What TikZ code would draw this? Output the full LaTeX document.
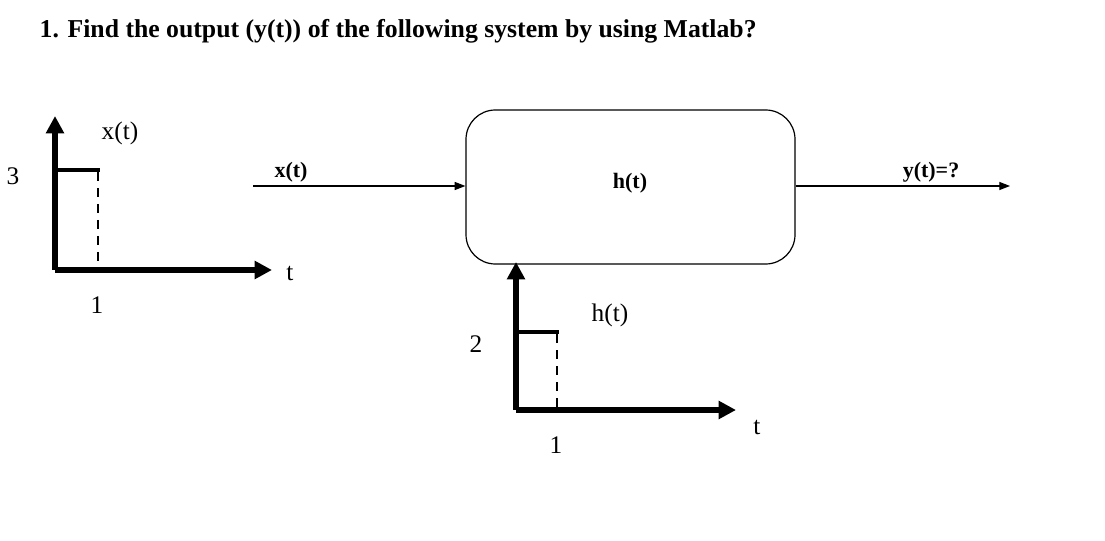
\documentclass[tikz,border=0pt]{standalone}
\usepackage{fontspec}
\setmainfont{Liberation Serif}
\usetikzlibrary{arrows.meta}
\begin{document}
\begin{tikzpicture}[x=0.75pt,y=-0.75pt,
  thickax/.style={line width=4pt,-{Triangle[length=13pt,width=13pt]}},
  pulse/.style={line width=3.5pt},
  dsh/.style={line width=1.8pt,dash pattern=on 7pt off 5pt},
  thin/.style={line width=0.9pt,-{Triangle[length=8pt,width=6pt]}},
  lbl/.style={font=\fontsize{19}{22}\selectfont},
  blbl/.style={font=\bfseries\fontsize{16.5}{19}\selectfont}]
\useasboundingbox (0,0) rectangle (1105,541);
\node[anchor=west,font=\bfseries\fontsize{19.3}{22}\selectfont] (title) at (35,31) {1. Find the output (y(t)) of the following system by using Matlab?};
% left plot
\coordinate (o1) at (55,270);
\coordinate (y1) at (55,116);
\coordinate (x1) at (272,270);
\draw[thickax] (o1) -- (y1);
\draw[thickax] (o1) -- (x1);
\draw[pulse] (55,170) -- (100,170);
\draw[dsh] (98,172) -- (98,268);
\node[lbl] (lx) at (120,133) {x(t)};
\node[lbl] (l3) at (13,176) {3};
\node[lbl] (l1) at (97,305) {1};
\node[lbl] (lt) at (290,273) {t};
% system
\node[draw,line width=0.9pt,rounded corners=22pt,minimum width=246.75pt,minimum height=115.5pt,inner sep=0pt] (box) at (630.5,187) {};
\coordinate (in) at (253,186);
\coordinate (out) at (1010,186);
\draw[thin] (in) -- (box.west |- in);
\draw[thin] (box.east |- out) -- (out);
\node[blbl] (xin) at (291,172) {x(t)};
\node[blbl] (hb) at (630,183) {h(t)};
\node[blbl] (yo) at (931,172) {y(t)=?};
% lower plot
\coordinate (o2) at (516,410);
\coordinate (y2) at (516,262);
\coordinate (x2) at (736,410);
\draw[thickax] (o2) -- (y2);
\draw[thickax] (o2) -- (x2);
\draw[pulse] (516,332) -- (559,332);
\draw[dsh] (557,334) -- (557,408);
\node[lbl] (lh) at (610,315) {h(t)};
\node[lbl] (l2) at (476,344) {2};
\node[lbl] (l1b) at (556,445) {1};
\node[lbl] (ltb) at (757,427) {t};
\end{tikzpicture}
\end{document}
